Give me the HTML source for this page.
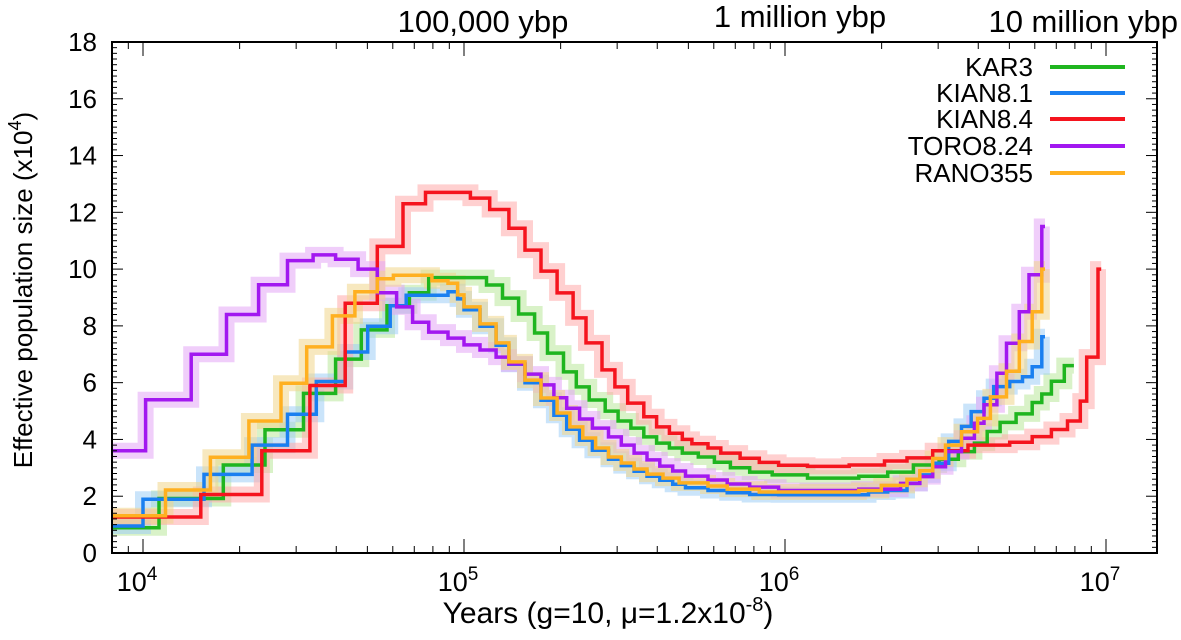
<!DOCTYPE html>
<html><head><meta charset="utf-8"><style>
html,body{margin:0;padding:0;background:#fff;}
svg{display:block;font-family:"Liberation Sans",sans-serif;}
</style></head><body>
<svg id="chart" width="1181" height="640" viewBox="0 0 1181 640" xmlns="http://www.w3.org/2000/svg">
<g id="bands"></g>
<g id="lines"></g>
<g id="axes"></g>
<g id="legend"></g>
<text x="483" y="32" font-size="31" text-anchor="middle">100,000 ybp</text>
<text x="800" y="27" font-size="31" text-anchor="middle">1 million ybp</text>
<text x="1178" y="32" font-size="31" text-anchor="end">10 million ybp</text>
<text transform="translate(32,290) rotate(-90)" font-size="26" text-anchor="middle">Effective population size (x10<tspan dy="-11" font-size="18">4</tspan><tspan dy="11">)</tspan></text>
<text x="608" y="623" font-size="30" text-anchor="middle">Years (g=10, μ=1.2x10<tspan dy="-12" font-size="20">-8</tspan><tspan dy="12">)</tspan></text>
</svg>
<script>
// Series data: step end times in log10(years), step values (x10^4)
const names = ["KAR3","KIAN8.1","KIAN8.4","TORO8.24","RANO355"];
const colors = ["#1fb51f","#1a7ff0","#f5141e","#a218f0","#ffb020"];
const bandColors = ["#b9e79a","#9fcdf5","#ffaaaa","#e3a6f5","#f0d68a"];
const startLogT = 3.85;
const greenLogT = [4.05,4.25,4.38,4.50,4.60,4.68,4.76,4.83,4.89,5.07,5.12,5.17,5.22,5.26,5.31,5.35,5.39,5.44,5.48,5.52,5.56,5.60,5.64,5.68,5.73,5.78,5.83,5.89,5.96,6.07,6.23,6.32,6.40,6.48,6.54,6.59,6.63,6.67,6.72,6.77,6.80,6.83,6.87,6.90];
const greenVals = [0.89,1.92,3.1,4.34,5.62,6.83,7.86,8.71,9.17,9.7,9.44,8.98,8.42,7.75,7.04,6.38,5.85,5.39,5.0,4.65,4.4,4.09,3.87,3.7,3.52,3.38,3.2,3.0,2.85,2.75,2.64,2.7,2.85,3.1,3.3,3.57,3.87,4.28,4.6,4.9,5.3,5.6,6.05,6.6];
const blueLogT = [4.0,4.19,4.34,4.45,4.54,4.63,4.70,4.77,4.82,4.95,4.98,5.0,5.05,5.10,5.14,5.19,5.24,5.28,5.32,5.36,5.40,5.45,5.49,5.53,5.57,5.61,5.65,5.69,5.76,5.82,5.89,5.98,6.26,6.32,6.38,6.42,6.46,6.51,6.55,6.58,6.62,6.65,6.70,6.74,6.77,6.80,6.81];
const blueVals = [0.95,1.89,2.77,3.8,4.89,6.04,7.08,7.99,8.71,9.08,9.2,8.95,8.57,7.99,7.32,6.65,6.0,5.38,4.85,4.36,3.97,3.62,3.3,3.08,2.88,2.7,2.56,2.42,2.3,2.2,2.12,2.06,2.05,2.15,2.2,2.45,2.75,3.16,3.93,4.46,4.98,5.45,5.86,6.04,6.21,6.56,7.62];
const redLogT = [4.18,4.37,4.52,4.63,4.73,4.81,4.88,5.02,5.08,5.14,5.19,5.24,5.29,5.34,5.38,5.43,5.47,5.51,5.56,5.60,5.64,5.68,5.71,5.76,5.80,5.86,5.92,5.98,6.07,6.20,6.31,6.38,6.46,6.57,6.70,6.77,6.83,6.88,6.92,6.94,6.975,6.985];
const redVals = [1.27,2.06,3.6,5.9,8.8,10.8,12.3,12.7,12.5,12.1,11.44,10.67,9.93,9.16,8.28,7.4,6.45,5.85,5.28,4.8,4.44,4.22,4.0,3.85,3.7,3.52,3.34,3.19,3.09,3.05,3.1,3.24,3.35,3.6,3.8,3.9,4.1,4.35,4.65,5.35,6.9,10.0];
const purpleLogT = [4.008,4.15,4.26,4.36,4.45,4.53,4.60,4.67,4.73,4.79,4.84,4.89,4.95,5.0,5.05,5.10,5.14,5.19,5.24,5.28,5.32,5.36,5.40,5.45,5.49,5.53,5.57,5.61,5.65,5.69,5.76,5.82,5.89,5.98,6.23,6.36,6.42,6.46,6.50,6.55,6.59,6.62,6.66,6.69,6.73,6.76,6.80,6.81];
const purpleVals = [3.6,5.4,7.0,8.4,9.45,10.3,10.5,10.35,10.0,9.17,8.67,8.13,7.78,7.57,7.33,7.15,6.9,6.66,6.3,5.92,5.47,5.1,4.72,4.4,4.09,3.8,3.52,3.28,3.06,2.89,2.71,2.57,2.43,2.32,2.2,2.25,2.45,2.69,3.04,3.57,4.04,4.57,5.22,6.33,7.39,8.5,9.8,11.5];
const orangeLogT = [4.07,4.21,4.33,4.43,4.51,4.59,4.66,4.73,4.78,4.90,4.95,4.98,5.0,5.05,5.10,5.14,5.19,5.24,5.29,5.33,5.37,5.41,5.45,5.49,5.53,5.57,5.62,5.67,5.76,5.82,5.92,6.23,6.30,6.38,6.42,6.46,6.50,6.55,6.60,6.64,6.69,6.73,6.77,6.80,6.81];
const orangeVals = [1.31,2.22,3.37,4.65,5.98,7.26,8.35,9.2,9.66,9.78,9.59,9.5,9.09,8.67,8.07,7.4,6.73,6.09,5.46,4.93,4.44,4.05,3.7,3.38,3.17,2.96,2.78,2.64,2.47,2.36,2.25,2.15,2.2,2.38,2.6,2.9,3.33,3.8,4.27,4.74,5.5,6.4,7.45,8.5,10.0];
const yTicks = [0,2,4,6,8,10,12,14,16,18];
const xDecades = [4,5,6,7];

const NS = "http://www.w3.org/2000/svg";
const L = 112, R = 1157, T = 42, B = 553;
const X = lg => 143 + 321 * (lg - 4);
const Y = v => 553 - 28.39 * v;
const series = [[greenLogT,greenVals],[blueLogT,blueVals],[redLogT,redVals],[purpleLogT,purpleVals],[orangeLogT,orangeVals]];

function stepPath(ts, vs){
  let d = "M" + Math.max(L+1, X(startLogT)) + "," + Y(vs[0]);
  for (let i = 0; i < vs.length; i++){
    const xe = X(ts[i]);
    d += " H" + xe.toFixed(1);
    if (i + 1 < vs.length) d += " V" + Y(vs[i+1]).toFixed(1);
  }
  return d;
}
function mk(tag, attrs, parent){
  const e = document.createElementNS(NS, tag);
  for (const k in attrs) e.setAttribute(k, attrs[k]);
  parent.appendChild(e);
  return e;
}
const bands = document.getElementById("bands");
const lines = document.getElementById("lines");
series.forEach((s, i) => {
  const b = mk("path", {d: stepPath(s[0], s[1]), fill:"none", stroke: bandColors[i], "stroke-width": 16, "stroke-opacity": 0.55, "stroke-linejoin":"miter"}, bands);
  
  
});
series.forEach((s, i) => {
  const p = mk("path", {d: stepPath(s[0], s[1]), fill:"none", stroke: colors[i], "stroke-width": 3.5}, lines);
  
  
});
mk("rect", {x:0, y:0, width:L, height:640, fill:"#fff"}, document.getElementById("axes"));

const axes = document.getElementById("axes");
const frame = mk("rect", {x:L, y:T, width:R-L, height:B-T, fill:"none", stroke:"#000", "stroke-width":2}, axes);


for (let v = 0; v <= 18.001; v += 0.2){
  const major = Math.abs(v - Math.round(v/2)*2) < 1e-6;
  const len = major ? 11 : 5;
  mk("line", {x1:L, x2:L+len, y1:Y(v), y2:Y(v), stroke:"#000", "stroke-width":1}, axes);
  mk("line", {x1:R, x2:R-len, y1:Y(v), y2:Y(v), stroke:"#000", "stroke-width":1}, axes);
}
yTicks.forEach(v => {
  const t = mk("text", {x:L-15, y:Y(v)+9, "font-size":26, "text-anchor":"end"}, axes);
  t.textContent = v;
  
  
});
for (let dec = 3; dec <= 7; dec++){
  for (let m = 1; m <= 9; m++){
    const lg = dec + Math.log10(m);
    const x = X(lg);
    if (x < L || x > R) continue;
    const len = m === 1 ? 14 : 7;
    mk("line", {x1:x, x2:x, y1:B, y2:B-len, stroke:"#000", "stroke-width":1}, axes);
    mk("line", {x1:x, x2:x, y1:T, y2:T+len, stroke:"#000", "stroke-width":1}, axes);
  }
}
xDecades.forEach(d => {
  const t = mk("text", {x:X(d)-6, y:591, "font-size":27, "text-anchor":"middle"}, axes);
  
  
  t.appendChild(document.createTextNode("10"));
  const s = mk("tspan", {dy:-11, "font-size":19}, t);
  s.textContent = d;
});
const legend = document.getElementById("legend");
const rowsY = [67,93,119,146,173];
names.forEach((n, i) => {
  const g = mk("g", {}, legend);
  
  
  const t = mk("text", {x:1033, y:rowsY[i]+9, "font-size":26, "text-anchor":"end"}, g);
  t.textContent = n;
  mk("line", {x1:1050, x2:1125, y1:rowsY[i], y2:rowsY[i], stroke:colors[i], "stroke-width":4}, g);
});
</script>
</body></html>
